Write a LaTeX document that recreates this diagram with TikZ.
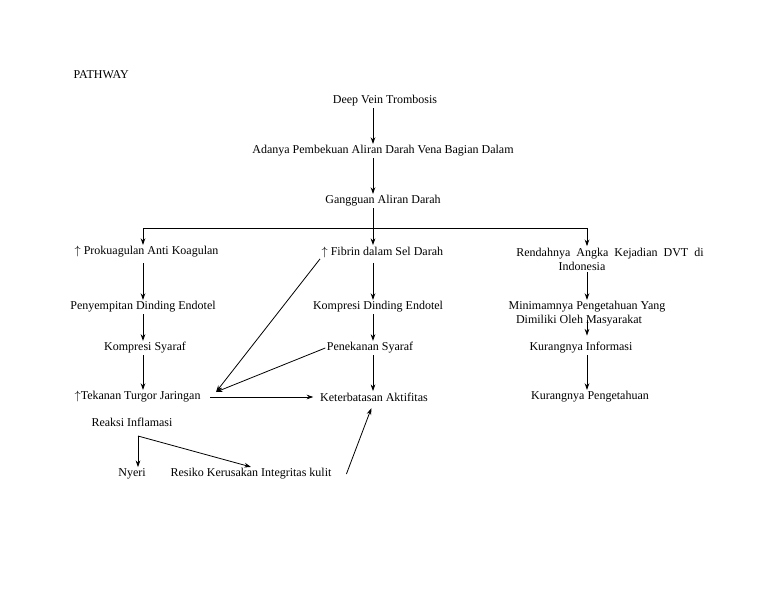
\documentclass[tikz,border=0pt]{standalone}
\usepackage{fontspec}
\setmainfont{Liberation Serif}
\usetikzlibrary{arrows.meta}
\begin{document}
\begin{tikzpicture}[x=0.75pt,y=-0.75pt,
  t/.style={inner sep=1pt,font=\fontsize{9}{10.5}\selectfont},
  tl/.style={t,anchor=west},
  ar/.style={-{Stealth[length=5pt,width=3.5pt]},line width=0.6pt},
  ln/.style={line width=0.6pt}]
\useasboundingbox (0,0) rectangle (768,594);
\node[tl] (pw) at (72,75) {PATHWAY};
\node[t] (dvt) at (385,101) {Deep Vein Trombosis};
\node[t] (ada) at (383,151) {Adanya Pembekuan Aliran Darah Vena Bagian Dalam};
\node[t] (gg) at (383,201) {Gangguan Aliran Darah};
\coordinate (cm) at (373,0);
\coordinate (cl) at (143,0);
\coordinate (cr) at (587,0);
\coordinate (hy) at (0,228);
% row 1
\node[tl] (pro) at (73,252) {$\uparrow$ Prokuagulan Anti Koagulan};
\node[tl] (fib) at (320,252) {$\uparrow$ Fibrin dalam Sel Darah};
\node[t,align=center] (ren) at (610,259) {Rendahnya\ \ Angka\ \ Kejadian\ \ DVT\ \ di\\\hspace*{-42pt}Indonesia};
% left column
\node[t] (pen) at (143,307) {Penyempitan Dinding Endotel};
\node[t] (ks) at (145,348) {Kompresi Syaraf};
\node[tl] (tek) at (73,397) {$\uparrow$Tekanan Turgor Jaringan};
\node[t] (rea) at (132,422) {Reaksi Inflamasi};
\node[t] (ny) at (132,474) {Nyeri};
\node[t] (res) at (251,474) {Resiko Kerusakan Integritas kulit};
% middle column
\node[t] (kde) at (378,307) {Kompresi Dinding Endotel};
\node[t] (pns) at (370,348) {Penekanan Syaraf};
\node[t] (ket) at (374,397) {Keterbatasan Aktifitas};
% right column
\node[t,align=center] (min) at (587,314) {Minimamnya Pengetahuan Yang\\\hspace*{-12pt}Dimiliki Oleh Masyarakat};
\node[t] (ki) at (581,348) {Kurangnya Informasi};
\node[t] (kp) at (590,397) {Kurangnya Pengetahuan};
% main trunk
\draw[ar] (dvt.south -| cm) -- (ada.north -| cm);
\draw[ar] (ada.south -| cm) -- (gg.north -| cm);
\draw[ar] (gg.south -| cm) -- (fib.north -| cm);
\coordinate (hl) at (hy -| cl);
\coordinate (hr) at (hy -| cr);
\draw[ln] (hl) -- (hr);
\draw[ar] (hl) -- (pro.north -| cl);
\draw[ar] (hr) -- (ren.north -| cr);
% left
\draw[ar] ([yshift=-3pt]pro.south -| cl) -- (pen.north -| cl);
\draw[ar] (pen.south -| cl) -- (ks.north -| cl);
\draw[ar] (ks.south -| cl) -- (tek.north -| cl);
\coordinate (rj) at (138,436);
\draw[ar] (rj) -- (ny.north -| rj);
\draw[ar] (rj) -- (res.north);
% middle
\draw[ar] ([yshift=-3pt]fib.south -| cm) -- (kde.north -| cm);
\draw[ar] (kde.south -| cm) -- (pns.north -| cm);
\draw[ar] (pns.south -| cm) -- (ket.north -| cm);
\coordinate (tip) at (216,392);
\draw[ar] (fib.south west) -- (tip);
\draw[ar] (pns.west) -- (tip);
\draw[ar] ([xshift=6pt]tek.east) -- ([xshift=-4pt]ket.west);
\draw[ar] ([xshift=10pt]res.east) -- ([xshift=-2pt,yshift=-4pt]ket.south);
% right
\draw[ar] (ren.south -| cr) -- (min.north -| cr);
\draw[ar] ([yshift=6pt]min.south -| cr) -- ([yshift=4pt]ki.north -| cr);
\draw[ar] (ki.south -| cr) -- (kp.north -| cr);
\end{tikzpicture}
\end{document}
